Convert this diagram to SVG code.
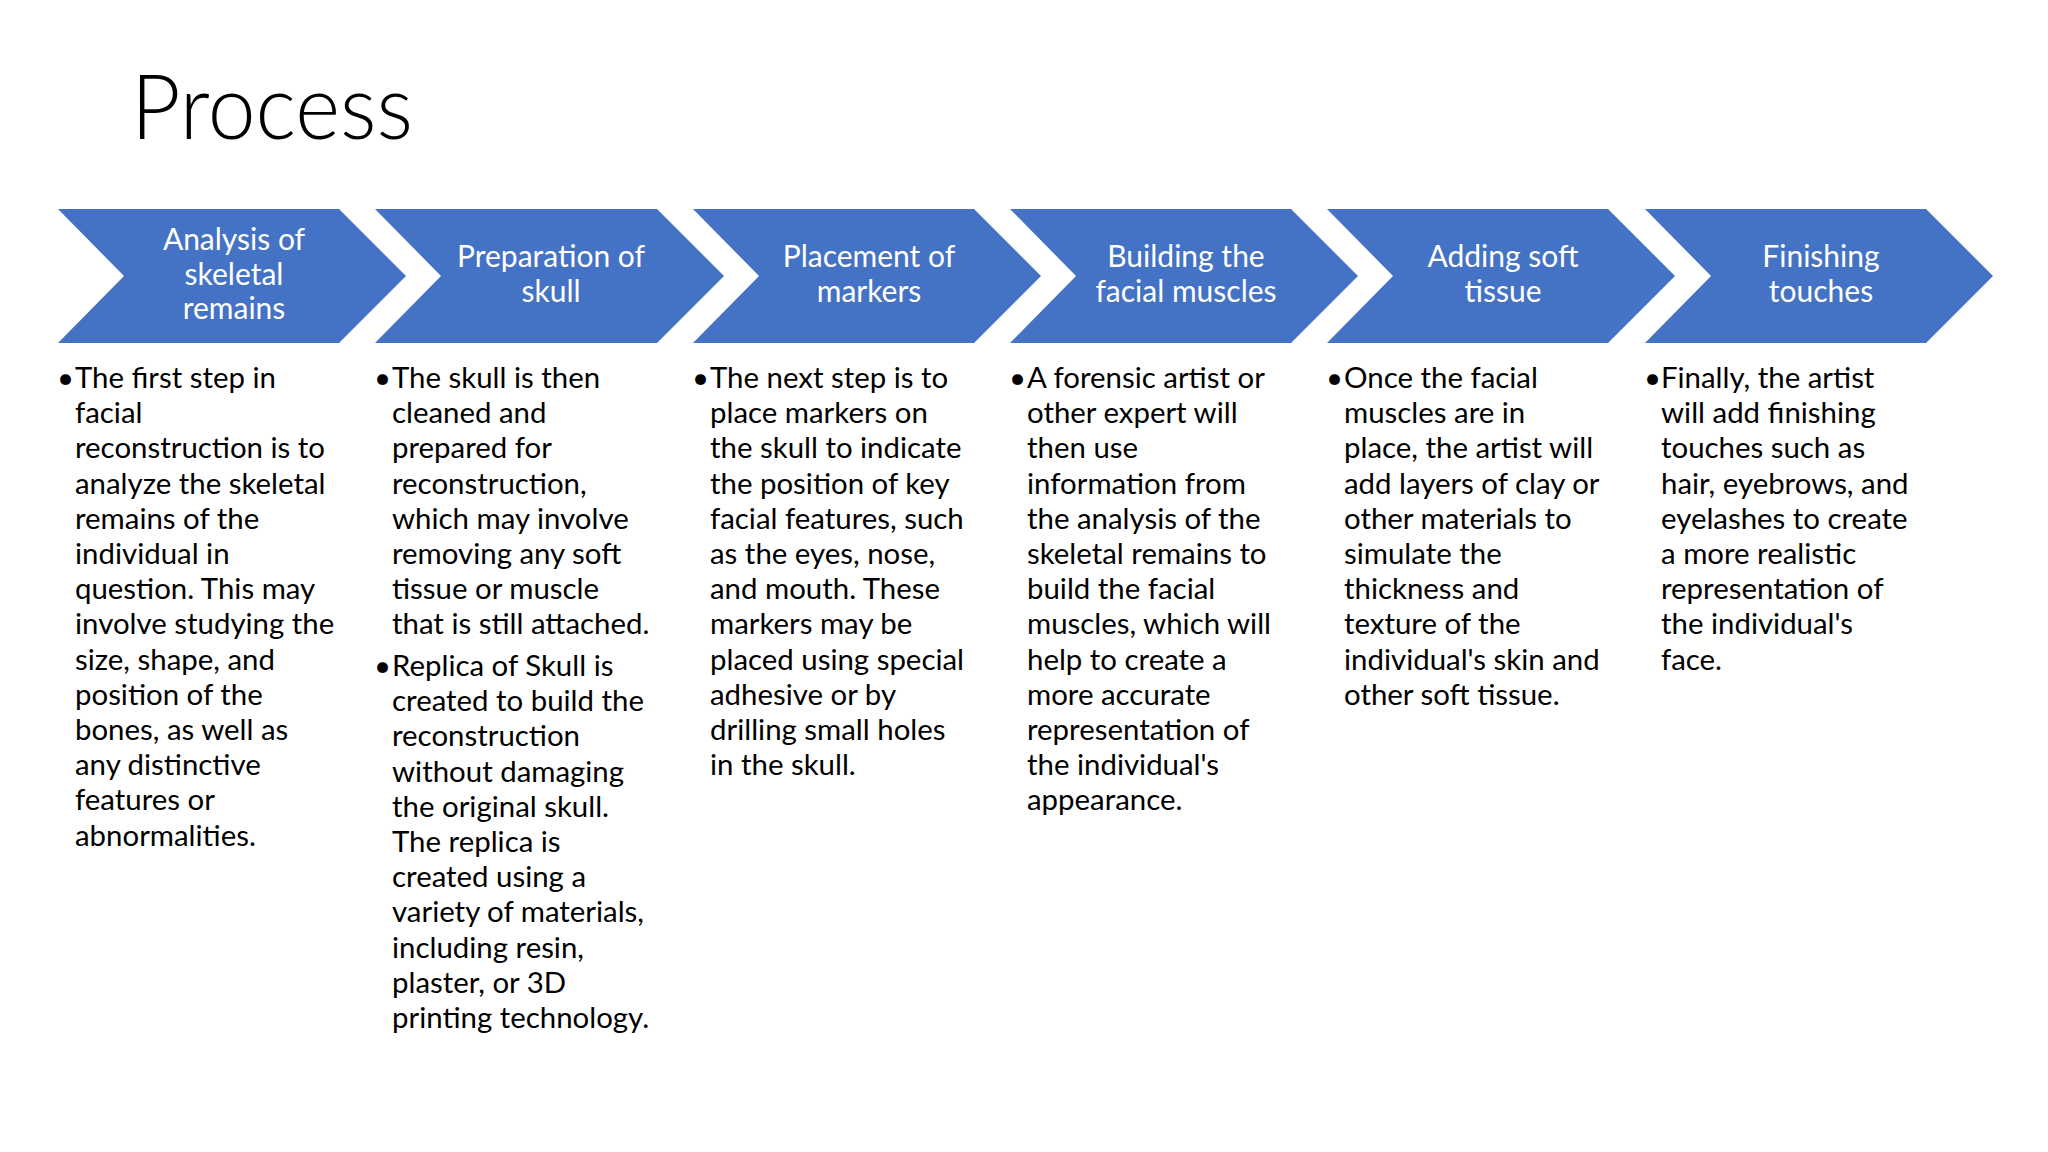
<svg xmlns="http://www.w3.org/2000/svg" width="2048" height="1152" viewBox="0 0 2048 1152">
<style>
.bg{fill:#ffffff}
.chev{fill:#4472C4}
.lbl{font-family:Lato,"Liberation Sans",sans-serif;font-size:30px;fill:#ffffff;text-anchor:middle}
.body{font-family:Lato,"Liberation Sans",sans-serif;font-size:29.4px;fill:#000000}
.title{font-family:Lato,"Liberation Sans",sans-serif;font-size:90px;font-weight:300;fill:#000000}
</style>
<rect class="bg" x="0" y="0" width="2048" height="1152"/>
<text class="title" x="131" y="139" textLength="282" lengthAdjust="spacingAndGlyphs">Process</text>
<g id="connectors"></g>
<g id="step1">
<polygon class="chev" points="58,209 339,209 406,276 339,343 58,343 124,276"/>
<text class="lbl" y="250"><tspan x="234">Analysis of</tspan><tspan x="234" dy="34.6">skeletal</tspan><tspan x="234" dy="34.6">remains</tspan></text>
</g>
<g id="step2">
<polygon class="chev" points="375,209 657,209 724,276 657,343 375,343 441,276"/>
<text class="lbl" y="267"><tspan x="551">Preparation of</tspan><tspan x="551" dy="34.6">skull</tspan></text>
</g>
<g id="step3">
<polygon class="chev" points="693,209 974,209 1041,276 974,343 693,343 759,276"/>
<text class="lbl" y="267"><tspan x="869">Placement of</tspan><tspan x="869" dy="34.6">markers</tspan></text>
</g>
<g id="step4">
<polygon class="chev" points="1010,209 1291,209 1358,276 1291,343 1010,343 1076,276"/>
<text class="lbl" y="267"><tspan x="1186">Building the</tspan><tspan x="1186" dy="34.6">facial muscles</tspan></text>
</g>
<g id="step5">
<polygon class="chev" points="1327,209 1608,209 1675,276 1608,343 1327,343 1393,276"/>
<text class="lbl" y="267"><tspan x="1503">Adding soft</tspan><tspan x="1503" dy="34.6">tissue</tspan></text>
</g>
<g id="step6">
<polygon class="chev" points="1645,209 1926,209 1993,276 1926,343 1645,343 1711,276"/>
<text class="lbl" y="267"><tspan x="1821">Finishing</tspan><tspan x="1821" dy="34.6">touches</tspan></text>
</g>
<g id="text1">
<text class="body" x="57" y="388">•</text>
<text class="body" y="388"><tspan x="75">The first step in</tspan><tspan x="75" dy="35.2">facial</tspan><tspan x="75" dy="35.2">reconstruction is to</tspan><tspan x="75" dy="35.2">analyze the skeletal</tspan><tspan x="75" dy="35.2">remains of the</tspan><tspan x="75" dy="35.2">individual in</tspan><tspan x="75" dy="35.2">question. This may</tspan><tspan x="75" dy="35.2">involve studying the</tspan><tspan x="75" dy="35.2">size, shape, and</tspan><tspan x="75" dy="35.2">position of the</tspan><tspan x="75" dy="35.2">bones, as well as</tspan><tspan x="75" dy="35.2">any distinctive</tspan><tspan x="75" dy="35.2">features or</tspan><tspan x="75" dy="35.2">abnormalities.</tspan></text>
</g>
<g id="text2">
<text class="body" x="374" y="388">•</text>
<text class="body" y="388"><tspan x="392">The skull is then</tspan><tspan x="392" dy="35.2">cleaned and</tspan><tspan x="392" dy="35.2">prepared for</tspan><tspan x="392" dy="35.2">reconstruction,</tspan><tspan x="392" dy="35.2">which may involve</tspan><tspan x="392" dy="35.2">removing any soft</tspan><tspan x="392" dy="35.2">tissue or muscle</tspan><tspan x="392" dy="35.2">that is still attached.</tspan></text>
<text class="body" x="374" y="676">•</text>
<text class="body" y="676"><tspan x="392">Replica of Skull is</tspan><tspan x="392" dy="35.2">created to build the</tspan><tspan x="392" dy="35.2">reconstruction</tspan><tspan x="392" dy="35.2">without damaging</tspan><tspan x="392" dy="35.2">the original skull.</tspan><tspan x="392" dy="35.2">The replica is</tspan><tspan x="392" dy="35.2">created using a</tspan><tspan x="392" dy="35.2">variety of materials,</tspan><tspan x="392" dy="35.2">including resin,</tspan><tspan x="392" dy="35.2">plaster, or 3D</tspan><tspan x="392" dy="35.2">printing technology.</tspan></text>
</g>
<g id="text3">
<text class="body" x="692" y="388">•</text>
<text class="body" y="388"><tspan x="710">The next step is to</tspan><tspan x="710" dy="35.2">place markers on</tspan><tspan x="710" dy="35.2">the skull to indicate</tspan><tspan x="710" dy="35.2">the position of key</tspan><tspan x="710" dy="35.2">facial features, such</tspan><tspan x="710" dy="35.2">as the eyes, nose,</tspan><tspan x="710" dy="35.2">and mouth. These</tspan><tspan x="710" dy="35.2">markers may be</tspan><tspan x="710" dy="35.2">placed using special</tspan><tspan x="710" dy="35.2">adhesive or by</tspan><tspan x="710" dy="35.2">drilling small holes</tspan><tspan x="710" dy="35.2">in the skull.</tspan></text>
</g>
<g id="text4">
<text class="body" x="1009" y="388">•</text>
<text class="body" y="388"><tspan x="1027">A forensic artist or</tspan><tspan x="1027" dy="35.2">other expert will</tspan><tspan x="1027" dy="35.2">then use</tspan><tspan x="1027" dy="35.2">information from</tspan><tspan x="1027" dy="35.2">the analysis of the</tspan><tspan x="1027" dy="35.2">skeletal remains to</tspan><tspan x="1027" dy="35.2">build the facial</tspan><tspan x="1027" dy="35.2">muscles, which will</tspan><tspan x="1027" dy="35.2">help to create a</tspan><tspan x="1027" dy="35.2">more accurate</tspan><tspan x="1027" dy="35.2">representation of</tspan><tspan x="1027" dy="35.2">the individual's</tspan><tspan x="1027" dy="35.2">appearance.</tspan></text>
</g>
<g id="text5">
<text class="body" x="1326" y="388">•</text>
<text class="body" y="388"><tspan x="1344">Once the facial</tspan><tspan x="1344" dy="35.2">muscles are in</tspan><tspan x="1344" dy="35.2">place, the artist will</tspan><tspan x="1344" dy="35.2">add layers of clay or</tspan><tspan x="1344" dy="35.2">other materials to</tspan><tspan x="1344" dy="35.2">simulate the</tspan><tspan x="1344" dy="35.2">thickness and</tspan><tspan x="1344" dy="35.2">texture of the</tspan><tspan x="1344" dy="35.2">individual's skin and</tspan><tspan x="1344" dy="35.2">other soft tissue.</tspan></text>
</g>
<g id="text6">
<text class="body" x="1644" y="388">•</text>
<text class="body" y="388"><tspan x="1661">Finally, the artist</tspan><tspan x="1661" dy="35.2">will add finishing</tspan><tspan x="1661" dy="35.2">touches such as</tspan><tspan x="1661" dy="35.2">hair, eyebrows, and</tspan><tspan x="1661" dy="35.2">eyelashes to create</tspan><tspan x="1661" dy="35.2">a more realistic</tspan><tspan x="1661" dy="35.2">representation of</tspan><tspan x="1661" dy="35.2">the individual's</tspan><tspan x="1661" dy="35.2">face.</tspan></text>
</g>
</svg>
